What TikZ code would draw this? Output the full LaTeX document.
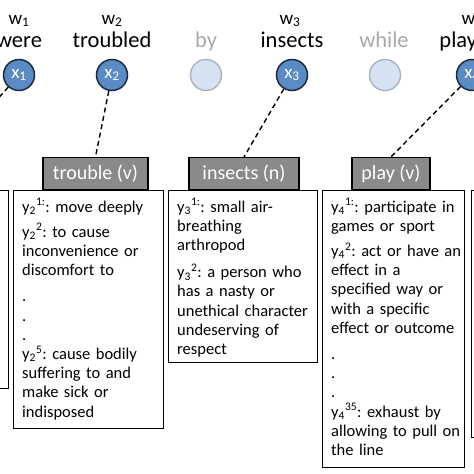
\documentclass[tikz,border=0pt]{standalone}
\usepackage{fontspec}
\setmainfont{Carlito}
\frenchspacing
\definecolor{nodeblue}{HTML}{5B8BC5}
\definecolor{nodeedge}{HTML}{1C2B3A}
\definecolor{lightfill}{HTML}{D5E2F1}
\definecolor{lightedge}{HTML}{A7B0BA}
\definecolor{hdrgray}{HTML}{8A8A8A}
\definecolor{wordgray}{HTML}{A9A9A9}
\begin{document}
\begin{tikzpicture}[x=1pt,y=-1pt,
 obs/.style={circle, draw=nodeedge, line width=1.5pt, fill=nodeblue, minimum size=31pt, inner sep=0pt, text=white, font=\fontsize{19}{20}\selectfont},
 hid/.style={circle, draw=lightedge, line width=1.3pt, fill=lightfill, minimum size=31pt, inner sep=0pt},
 wlabel/.style={font=\fontsize{19}{20}\selectfont, anchor=base, inner sep=0pt},
 word/.style={font=\fontsize{22.5}{26}\selectfont, anchor=base, inner sep=0pt},
 hdr/.style={draw=black, line width=1.1pt, fill=hdrgray, text=white, font=\fontsize{20}{24}\selectfont, minimum height=32pt, inner sep=0pt, anchor=south},
 defbox/.style={draw=black, line width=1.3pt, anchor=north west, inner sep=0pt},
 deftext/.style={anchor=base west, inner sep=0pt, align=left, text width=148pt, font=\fontsize{16.5}{19.2}\selectfont},
 link/.style={draw=black, line width=1.4pt, dash pattern=on 5pt off 3.5pt}]
\useasboundingbox (0,0) rectangle (474,474);
\clip (0,0) rectangle (474,474);

% top labels
\node[wlabel] (w1) at (19,24) {w\textsubscript{1}};
\node[wlabel] (w2) at (112,24) {w\textsubscript{2}};
\node[wlabel] (w3) at (290,24) {w\textsubscript{3}};
\node[wlabel] (w4) at (472,24) {w\textsubscript{4}};
\node[word] (t1) at (19,47) {were};
\node[word] (t2) at (112,47) {troubled};
\node[word, text=wordgray] (t3) at (206,47) {by};
\node[word] (t4) at (292,47) {insects};
\node[word, text=wordgray] (t5) at (384,47) {while};
\node[word] (t6) at (472,47) {playing};

% circles
\node[obs] (c1) at (19,75) {x\textsubscript{1}};
\node[obs] (c2) at (112,75) {x\textsubscript{2}};
\node[hid] (c3) at (206,75) {};
\node[obs] (c4) at (292,75) {x\textsubscript{3}};
\node[hid] (c5) at (385,75) {};
\node[obs] (c6) at (472,75) {x\textsubscript{4}};

% definition boxes
\node[defbox, minimum width=40pt, minimum height=198pt] (d1) at (-32,190) {};
\node[defbox, minimum width=150pt, minimum height=238pt] (d2) at (13,190) {};
\node[defbox, minimum width=149pt, minimum height=172pt] (d3) at (168,190) {};
\node[defbox, minimum width=142pt, minimum height=277pt] (d4) at (322,190) {};
\node[defbox, minimum width=40pt, minimum height=247pt] (d5) at (471,190) {};

% headers
\node[hdr, minimum width=105pt] (h2) at (95.5,190) {trouble (v)};
\node[hdr, minimum width=110pt] (h3) at (244,190) {insects (n)};
\node[hdr, minimum width=78pt] (h4) at (391,190) {play (v)};
\coordinate (h1) at (-55,158);

% connectors
\draw[link] (c1) -- (h1);
\draw[link] (c2) -- (h2.north);
\draw[link] (c4) -- (h3.north);
\draw[link] (c6) -- (h4.north);

% texts
\node[deftext] (e2) at (22,212) {y\textsubscript{2}\textsuperscript{1:}: move deeply\\[6pt]
y\textsubscript{2}\textsuperscript{2}: to cause\\
inconvenience or\\
discomfort to\\[7pt]
.\\
.\\
.\\
y\textsubscript{2}\textsuperscript{5}: cause bodily\\
suffering to and\\
make sick or\\
indisposed};

\node[deftext] (e3) at (177,212) {y\textsubscript{3}\textsuperscript{1:}: small air-\\
breathing\\
arthropod\\[8pt]
y\textsubscript{3}\textsuperscript{2}: a person who\\
has a nasty or\\
unethical character\\
undeserving of\\
respect};

\node[deftext] (e4) at (331,212) {y\textsubscript{4}\textsuperscript{1:}: participate in\\
games or sport\\[6pt]
y\textsubscript{4}\textsuperscript{2}: act or have an\\
effect in a\\
specified way or\\
with a specific\\
effect or outcome\\[7pt]
.\\
.\\
.\\
y\textsubscript{4}\textsuperscript{35}: exhaust by\\
allowing to pull on\\
the line};
\end{tikzpicture}
\end{document}
